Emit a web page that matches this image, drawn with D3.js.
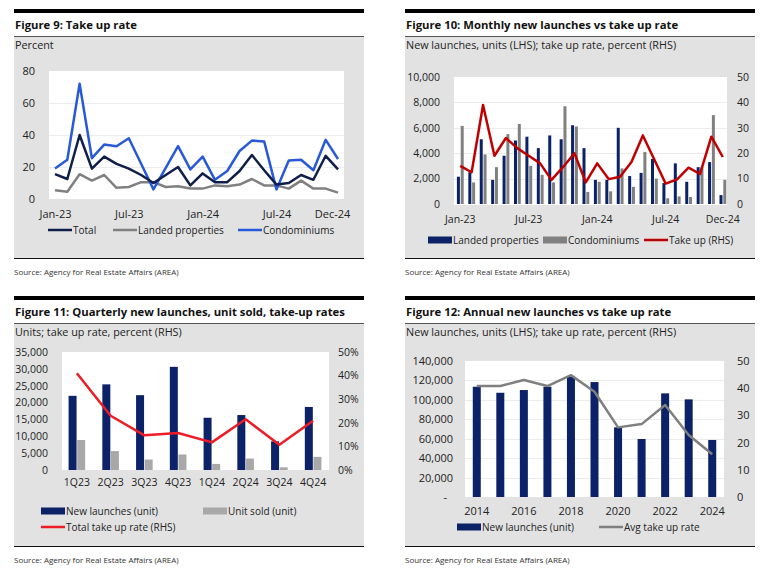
<!DOCTYPE html>
<html>
<head>
<meta charset="utf-8">
<script src="https://cdn.jsdelivr.net/npm/d3@7"></script>
<style>
body{margin:0;background:#fff}
svg{display:block;font-family:"Open Sans",sans-serif}
</style>
</head>
<body>
<svg id="chart" width="768" height="577"></svg>
<script>
// ---- data ----
var months = ["Jan-23","Feb-23","Mar-23","Apr-23","May-23","Jun-23","Jul-23","Aug-23","Sep-23","Oct-23","Nov-23","Dec-23",
              "Jan-24","Feb-24","Mar-24","Apr-24","May-24","Jun-24","Jul-24","Aug-24","Sep-24","Oct-24","Nov-24","Dec-24"];
var monthTicks = ["Jan-23","Jul-23","Jan-24","Jul-24","Dec-24"];

// Figure 9: take up rate, percent
var f9Total  = [15.5,12.5,40,19,26.5,22,19,15,10,15,20,8.5,16,10.5,10.5,17.5,27.5,18,9,10,15,12,27,18.5];
var f9Landed = [5.5,4.5,15.5,11.5,15,7,7.5,10.5,10.5,7.5,8,6.5,6.5,8.5,8,9,12.5,8.5,8.5,6.5,11.5,6.5,6.5,4];
var f9Condo  = [19,24.5,72,25.5,34,33,38,22,6,19.5,33,18.5,26.5,12,17.5,30,36.5,36,6,24,24.5,18,37,25];

// Figure 10: monthly new launches (units) and take up (percent)
var f10Landed = [2150,2500,5100,1900,3800,5000,5300,4400,5400,5100,6200,4400,1900,1900,6000,2200,2450,3550,1650,3200,1750,2900,3300,700];
var f10Condo  = [6150,1700,3900,2900,5500,6300,3000,2300,1700,7700,6100,950,1750,1000,2800,1350,4100,2000,450,600,550,2900,7000,1900];
var f10TakeUp = [15,12.5,39,19,26,22,19,16,9.5,14.5,20,8.5,16,9.8,10.7,16.5,27,17.5,8,9.7,14.3,11.8,26.5,18.5];

// Figure 11: quarterly
var quarters  = ["1Q23","2Q23","3Q23","4Q23","1Q24","2Q24","3Q24","4Q24"];
var f11Launch = [22000,25400,22200,30600,15500,16300,8500,18700];
var f11Sold   = [8900,5600,3100,4600,1800,3400,800,3900];
var f11Rate   = [0.41,0.23,0.147,0.157,0.117,0.215,0.107,0.209];

// Figure 12: annual
var years     = ["2014","2015","2016","2017","2018","2019","2020","2021","2022","2023","2024"];
var yearTicks = ["2014","2016","2018","2020","2022","2024"];
var f12Launch = [113500,107300,110100,113500,123800,118300,71700,59700,106700,100500,58700];
var f12Rate   = [40.8,40.8,43,40.8,44.8,38.7,25.6,26.8,33.8,22.8,15.7];

// ---- styling ----
var NAVY = "#0c2268", GREY = "#808080", LGREY = "#a8a8a8", BOX = "#e2e2e2", GRID = "#ececec";
var svg = d3.select("#chart");

function frame(x0, w, top, boxBottom, title, subtitle){
  var g = svg.append("g");
  g.append("rect").attr("x", x0).attr("y", top + 28).attr("width", w).attr("height", boxBottom - top - 28).attr("fill", BOX);
  g.append("rect").attr("x", x0).attr("y", top).attr("width", w).attr("height", 4).attr("fill", "#000");
  g.append("text").attr("x", x0 + 1).attr("y", top + 20).attr("font-size", 11.3).attr("font-weight", "bold").attr("fill", "#111").text(title);
  g.append("line").attr("x1", x0).attr("x2", x0 + w).attr("y1", top + 27.5).attr("y2", top + 27.5).attr("stroke", "#555").attr("stroke-width", 1);
  g.append("text").attr("x", x0 + 1).attr("y", top + 40).attr("font-size", 10.8).attr("fill", "#222").text(subtitle);
  g.append("line").attr("x1", x0).attr("x2", x0 + w).attr("y1", boxBottom + 0.5).attr("y2", boxBottom + 0.5).attr("stroke", "#111").attr("stroke-width", 1);
  g.append("text").attr("x", x0).attr("y", boxBottom + 17).attr("font-size", 8).attr("fill", "#333").text("Source: Agency for Real Estate Affairs (AREA)");
  return g;
}

function plotArea(g, x, y, w, h){
  g.append("rect").attr("x", x).attr("y", y).attr("width", w).attr("height", h).attr("fill", "#fff");
}

function grid(g, scale, ticks, x1, x2){
  g.selectAll(null).data(ticks).enter().append("line")
    .attr("x1", x1).attr("x2", x2)
    .attr("y1", function(d){ return Math.round(scale(d)) + 0.5; })
    .attr("y2", function(d){ return Math.round(scale(d)) + 0.5; })
    .attr("stroke", GRID);
}

function styleAxis(a, size){
  a.select(".domain").remove();
  a.selectAll("text").attr("font-size", size).attr("fill", "#222").attr("font-family", "Open Sans");
}

function legendRect(g, x, y, color, label){
  g.append("rect").attr("x", x).attr("y", y - 3.5).attr("width", 24).attr("height", 7).attr("fill", color);
  g.append("text").attr("x", x + 25).attr("y", y + 3.5).attr("font-size", 10).attr("fill", "#222").text(label);
}
function legendLine(g, x, y, color, label){
  g.append("line").attr("x1", x).attr("x2", x + 24).attr("y1", y).attr("y2", y).attr("stroke", color).attr("stroke-width", 2.5);
  g.append("text").attr("x", x + 25).attr("y", y + 3.5).attr("font-size", 10).attr("fill", "#222").text(label);
}

// ---------- Figure 9 ----------
(function(){
  var g = frame(14, 350, 9, 258, "Figure 9: Take up rate", "Percent");
  plotArea(g, 49, 71, 295, 128);
  var x = d3.scalePoint().domain(months).range([55, 338]);
  var y = d3.scaleLinear().domain([0, 80]).range([199, 71]);
  grid(g, y, [20, 40, 60], 49, 344);

  var ya = g.append("g").attr("transform", "translate(49,0)")
    .call(d3.axisLeft(y).tickValues([0,20,40,60,80]).tickSize(0).tickPadding(14));
  styleAxis(ya, 11);
  var xa = g.append("g").attr("transform", "translate(0,199)")
    .call(d3.axisBottom(x).tickValues(monthTicks).tickSize(0).tickPadding(11));
  styleAxis(xa, 11);
  xa.selectAll("text").filter(function(d){ return d === "Dec-24"; }).attr("dx", -6);

  var series = [[f9Landed, GREY], [f9Condo, "#2859d8"], [f9Total, "#0f1e4a"]];
  series.forEach(function(s){
    var line = d3.line().x(function(d, i){ return x(months[i]); }).y(function(d){ return y(d); });
    g.append("path").datum(s[0]).attr("d", line).attr("fill", "none")
      .attr("stroke", s[1]).attr("stroke-width", 2.5).attr("stroke-linejoin", "round");
  });

  legendLine(g, 48, 230, "#0f1e4a", "Total");
  legendLine(g, 113, 230, GREY, "Landed properties");
  legendLine(g, 238, 230, "#2859d8", "Condominiums");
})();

// ---------- Figure 10 ----------
(function(){
  var g = frame(405, 350, 9, 258, "Figure 10: Monthly new launches vs take up rate",
    "New launches, units (LHS); take up rate, percent (RHS)");
  plotArea(g, 454, 77, 273, 128);
  var x = d3.scaleBand().domain(months).range([454.5, 728.5]);
  var y = d3.scaleLinear().domain([0, 10000]).range([204, 77]);
  var y2 = d3.scaleLinear().domain([0, 50]).range([204, 77]);
  grid(g, y, [2000, 4000, 6000, 8000], 454, 727);

  var ya = g.append("g").attr("transform", "translate(454,0)")
    .call(d3.axisLeft(y).tickValues([0,2000,4000,6000,8000,10000]).tickFormat(d3.format(",")).tickSize(0).tickPadding(14));
  styleAxis(ya, 10.5);
  var yb = g.append("g").attr("transform", "translate(727,0)")
    .call(d3.axisRight(y2).tickValues([0,10,20,30,40,50]).tickSize(0).tickPadding(10));
  styleAxis(yb, 10.5);
  var xa = g.append("g").attr("transform", "translate(0,204)")
    .call(d3.axisBottom(x).tickValues(monthTicks).tickSize(0).tickPadding(12));
  styleAxis(xa, 10.5);

  var c = function(d){ return x(d) + x.bandwidth() / 2; };
  g.selectAll(null).data(months).enter().append("rect")
    .attr("x", function(d){ return c(d) - 3.3; }).attr("width", 3)
    .attr("y", function(d, i){ return y(f10Landed[i]); })
    .attr("height", function(d, i){ return y(0) - y(f10Landed[i]); })
    .attr("fill", NAVY);
  g.selectAll(null).data(months).enter().append("rect")
    .attr("x", function(d){ return c(d) + 0.5; }).attr("width", 3)
    .attr("y", function(d, i){ return y(f10Condo[i]); })
    .attr("height", function(d, i){ return y(0) - y(f10Condo[i]); })
    .attr("fill", GREY);

  var line = d3.line().x(function(d, i){ return c(months[i]); }).y(function(d){ return y2(d); });
  g.append("path").datum(f10TakeUp).attr("d", line).attr("fill", "none")
    .attr("stroke", "#c00000").attr("stroke-width", 2.5).attr("stroke-linejoin", "round");

  legendRect(g, 428, 240, NAVY, "Landed properties");
  legendRect(g, 543, 240, GREY, "Condominiums");
  legendLine(g, 644, 240, "#c00000", "Take up (RHS)");
})();

// ---------- Figure 11 ----------
(function(){
  var g = frame(14, 350, 296, 546, "Figure 11: Quarterly new launches, unit sold, take-up rates",
    "Units; take up rate, percent (RHS)");
  plotArea(g, 62, 352, 267, 118);
  var x = d3.scaleBand().domain(quarters).range([60, 330]);
  var y = d3.scaleLinear().domain([0, 35000]).range([470, 352]);
  var y2 = d3.scaleLinear().domain([0, 0.5]).range([470, 352]);

  var ya = g.append("g").attr("transform", "translate(62,0)")
    .call(d3.axisLeft(y).ticks(7).tickFormat(d3.format(",")).tickSize(0).tickPadding(14));
  styleAxis(ya, 10.5);
  var yb = g.append("g").attr("transform", "translate(329,0)")
    .call(d3.axisRight(y2).tickValues([0,0.1,0.2,0.3,0.4,0.5]).tickFormat(d3.format(".0%")).tickSize(0).tickPadding(9));
  styleAxis(yb, 10.5);
  var xa = g.append("g").attr("transform", "translate(0,470)")
    .call(d3.axisBottom(x).tickSize(0).tickPadding(9));
  styleAxis(xa, 10.5);

  var c = function(d){ return x(d) + x.bandwidth() / 2; };
  g.selectAll(null).data(quarters).enter().append("rect")
    .attr("x", function(d){ return c(d) - 8.3; }).attr("width", 8)
    .attr("y", function(d, i){ return y(f11Launch[i]); })
    .attr("height", function(d, i){ return y(0) - y(f11Launch[i]); })
    .attr("fill", NAVY);
  g.selectAll(null).data(quarters).enter().append("rect")
    .attr("x", function(d){ return c(d) + 0.3; }).attr("width", 8)
    .attr("y", function(d, i){ return y(f11Sold[i]); })
    .attr("height", function(d, i){ return y(0) - y(f11Sold[i]); })
    .attr("fill", LGREY);

  var line = d3.line().x(function(d, i){ return c(quarters[i]); }).y(function(d){ return y2(d); });
  g.append("path").datum(f11Rate).attr("d", line).attr("fill", "none")
    .attr("stroke", "#ee1c25").attr("stroke-width", 2.5).attr("stroke-linejoin", "round");

  legendRect(g, 41, 511, NAVY, "New launches (unit)");
  legendRect(g, 203, 511, LGREY, "Unit sold (unit)");
  legendLine(g, 41, 527, "#ee1c25", "Total take up rate (RHS)");
})();

// ---------- Figure 12 ----------
(function(){
  var g = frame(405, 350, 296, 546, "Figure 12: Annual new launches vs take up rate",
    "New launches, units (LHS); take up rate, percent (RHS)");
  plotArea(g, 465, 361, 259, 136);
  var x = d3.scaleBand().domain(years).range([465, 724]);
  var y = d3.scaleLinear().domain([0, 140000]).range([497, 361]);
  var y2 = d3.scaleLinear().domain([0, 50]).range([497, 361]);
  grid(g, y, [20000, 40000, 60000, 80000, 100000, 120000], 465, 724);

  var ya = g.append("g").attr("transform", "translate(465,0)")
    .call(d3.axisLeft(y).ticks(7).tickFormat(function(d){ return d === 0 ? "-" : d3.format(",")(d); }).tickSize(0).tickPadding(12));
  styleAxis(ya, 11);
  ya.selectAll("text").filter(function(d){ return d === 0; }).attr("dx", -6);
  var yb = g.append("g").attr("transform", "translate(724,0)")
    .call(d3.axisRight(y2).tickValues([0,10,20,30,40,50]).tickSize(0).tickPadding(13));
  styleAxis(yb, 11);
  var xa = g.append("g").attr("transform", "translate(0,497)")
    .call(d3.axisBottom(x).tickValues(yearTicks).tickSize(0).tickPadding(10));
  styleAxis(xa, 11);

  var c = function(d){ return x(d) + x.bandwidth() / 2; };
  g.selectAll(null).data(years).enter().append("rect")
    .attr("x", function(d){ return c(d) - 4; }).attr("width", 8)
    .attr("y", function(d, i){ return y(f12Launch[i]); })
    .attr("height", function(d, i){ return y(0) - y(f12Launch[i]); })
    .attr("fill", NAVY);

  var line = d3.line().x(function(d, i){ return c(years[i]); }).y(function(d){ return y2(d); });
  g.append("path").datum(f12Rate).attr("d", line).attr("fill", "none")
    .attr("stroke", "#7f7f7f").attr("stroke-width", 2.5).attr("stroke-linejoin", "round");

  legendRect(g, 457, 527, NAVY, "New launches (unit)");
  legendLine(g, 599, 527, "#7f7f7f", "Avg take up rate");
})();
</script>
</body>
</html>
